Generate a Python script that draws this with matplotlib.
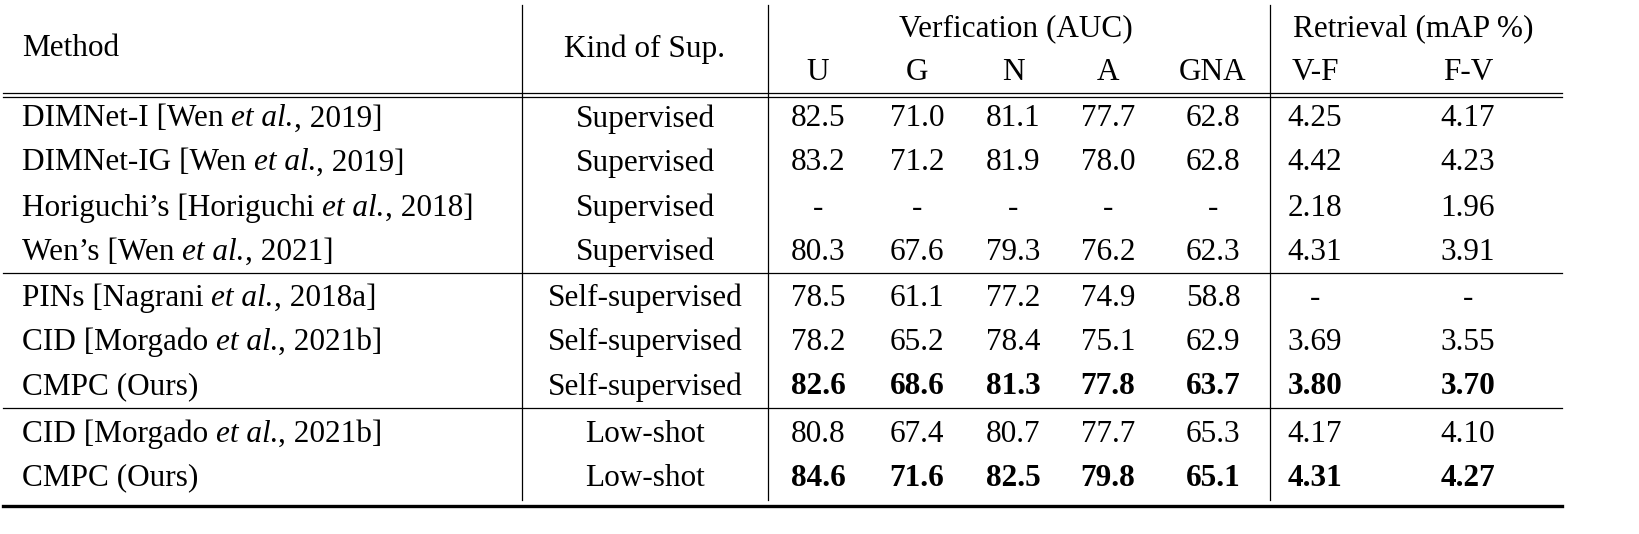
import matplotlib
matplotlib.use("Agg")
import matplotlib.pyplot as plt

methods = [
    ("DIMNet-I [Wen ", "et al.", ", 2019]"),
    ("DIMNet-IG [Wen ", "et al.", ", 2019]"),
    ("Horiguchi’s [Horiguchi ", "et al.", ", 2018]"),
    ("Wen’s [Wen ", "et al.", ", 2021]"),
    ("PINs [Nagrani ", "et al.", ", 2018a]"),
    ("CID [Morgado ", "et al.", ", 2021b]"),
    ("CMPC (Ours)", "", ""),
    ("CID [Morgado ", "et al.", ", 2021b]"),
    ("CMPC (Ours)", "", ""),
]
sup = ["Supervised"] * 4 + ["Self-supervised"] * 3 + ["Low-shot"] * 2
cols = ["U", "G", "N", "A", "GNA", "V-F", "F-V"]
values = [
    ["82.5", "71.0", "81.1", "77.7", "62.8", "4.25", "4.17"],
    ["83.2", "71.2", "81.9", "78.0", "62.8", "4.42", "4.23"],
    ["-", "-", "-", "-", "-", "2.18", "1.96"],
    ["80.3", "67.6", "79.3", "76.2", "62.3", "4.31", "3.91"],
    ["78.5", "61.1", "77.2", "74.9", "58.8", "-", "-"],
    ["78.2", "65.2", "78.4", "75.1", "62.9", "3.69", "3.55"],
    ["82.6", "68.6", "81.3", "77.8", "63.7", "3.80", "3.70"],
    ["80.8", "67.4", "80.7", "77.7", "65.3", "4.17", "4.10"],
    ["84.6", "71.6", "82.5", "79.8", "65.1", "4.31", "4.27"],
]
bold_rows = [6, 8]

W, H = 1640, 534
fig = plt.figure(figsize=(W / 100, H / 100), dpi=100)
ax = fig.add_axes([0, 0, 1, 1])
ax.set_xlim(0, W); ax.set_ylim(H, 0); ax.axis("off")
FONT = "Liberation Serif"
FS = 22.5

row_y = [119, 163, 208, 252, 298, 342, 387, 434, 478]
col_x = [818, 917, 1013, 1108, 1213, 1315, 1468]
kind_x = 645

ax.text(22, 49, "Method", fontsize=FS, family=FONT, va="center", ha="left")
ax.text(kind_x, 49, "Kind of Sup.", fontsize=FS, family=FONT, va="center", ha="center")
ax.text(1016, 29, "Verfication (AUC)", fontsize=FS, family=FONT, va="center", ha="center")
ax.text(1413, 29, "Retrieval (mAP %)", fontsize=FS, family=FONT, va="center", ha="center")
for c, x in zip(cols, col_x):
    ax.text(x, 73, c, fontsize=FS, family=FONT, va="center", ha="center")

fig.canvas.draw()
r = fig.canvas.get_renderer()
for i, (a, b, c) in enumerate(methods):
    y = row_y[i]
    x = 22
    for txt, style in ((a, "normal"), (b, "italic"), (c, "normal")):
        if not txt:
            continue
        t = ax.text(x, y, txt, fontsize=FS, family=FONT, style=style, va="center", ha="left")
        bb = t.get_window_extent(renderer=r)
        x += bb.width
    ax.text(kind_x, y, sup[i], fontsize=FS, family=FONT, va="center", ha="center")
    for j, v in enumerate(values[i]):
        ax.text(col_x[j], y, v, fontsize=FS, family=FONT, va="center", ha="center",
                weight="bold" if i in bold_rows else "normal")

x0, x1 = 3, 1562
ax.plot([x0, x1], [93, 93], color="black", lw=0.9)
ax.plot([x0, x1], [97, 97], color="black", lw=0.9)
ax.plot([x0, x1], [273, 273], color="black", lw=0.9)
ax.plot([x0, x1], [408, 408], color="black", lw=0.9)
ax.plot([x0, x1], [506, 506], color="black", lw=2.4)
for vx in (522, 768, 1270):
    ax.plot([vx, vx], [5, 500], color="black", lw=0.9)

fig.savefig("out.png", dpi=100)
